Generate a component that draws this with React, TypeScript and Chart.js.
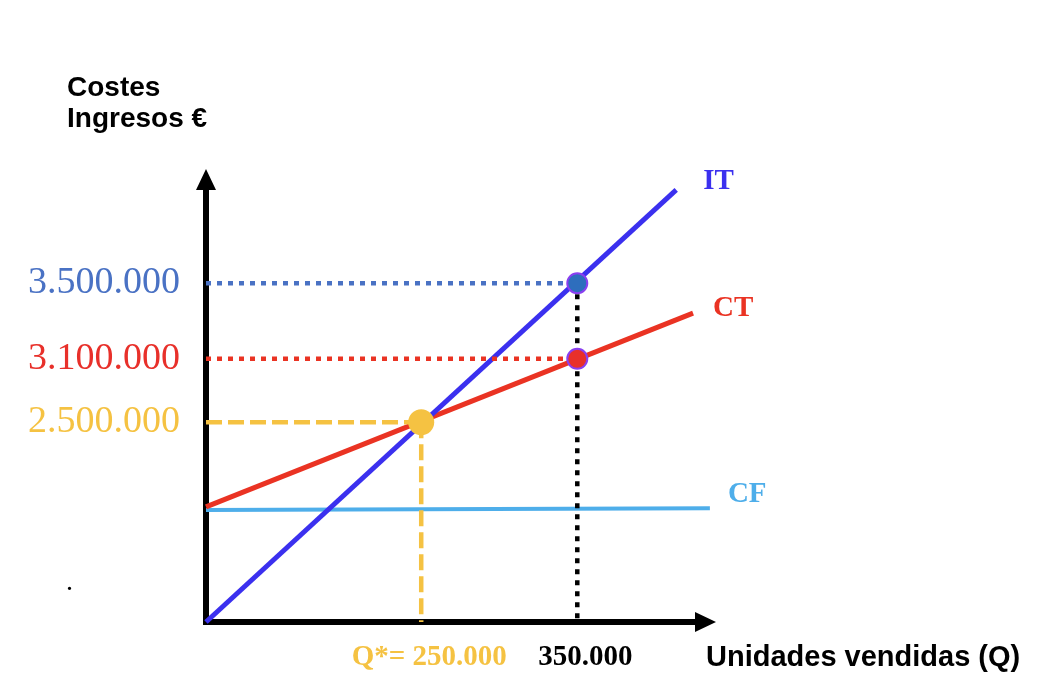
import { useEffect, useRef } from 'react';
import { Chart, registerables, Plugin } from 'chart.js';

Chart.register(...registerables);

// The original is a schematic (not to scale), so both axes run 0–100 in
// drawing units and each labelled value sits where the original puts it.
const qTickPos = [42.2, 72.8];
const qTickLabels = ['Q*= 250.000', '350.000'];
const qTickColors = ['#f5c242', '#000000'];

const eurTickPos = [74.8, 58.1, 44.1];
const eurTickLabels = ['3.500.000', '3.100.000', '2.500.000'];
const eurTickColors = ['#4a72c4', '#e8302a', '#f5c242'];

// IT (ingresos totales), CT (costes totales), CF (costes fijos)
const itX = [0, 92.2];
const itY = [0, 95.4];
const ctX = [0, 95.5];
const ctY = [25.4, 68.2];
const cfX = [0, 98.8];
const cfY = [24.7, 25.1];

const serif = '"Liberation Serif", "Times New Roman", serif';
const sans = '"Liberation Sans", Arial, sans-serif';

const pts = (xs: number[], ys: number[]) => xs.map((x, i) => ({ x, y: ys[i] }));

const lineSet = (label: string, xs: number[], ys: number[], color: string, width: number, dash: number[], order: number) => ({
  label,
  data: pts(xs, ys),
  borderColor: color,
  borderWidth: width,
  borderDash: dash,
  borderCapStyle: 'butt' as const,
  pointRadius: 0,
  fill: false,
  tension: 0,
  order,
});

const axesArrows: Plugin = {
  id: 'axesArrows',
  beforeDatasetsDraw(chart) {
    const { ctx, chartArea } = chart;
    const { left, top, right, bottom } = chartArea;
    ctx.save();
    ctx.strokeStyle = '#000';
    ctx.fillStyle = '#000';
    ctx.lineWidth = 6;
    ctx.beginPath();
    ctx.moveTo(left, bottom + 3);
    ctx.lineTo(left, top + 20);
    ctx.moveTo(left - 3, bottom);
    ctx.lineTo(right - 20, bottom);
    ctx.stroke();
    ctx.beginPath();
    ctx.moveTo(left, top);
    ctx.lineTo(left - 10, top + 21);
    ctx.lineTo(left + 10, top + 21);
    ctx.closePath();
    ctx.moveTo(right, bottom);
    ctx.lineTo(right - 21, bottom - 10);
    ctx.lineTo(right - 21, bottom + 10);
    ctx.closePath();
    ctx.fill();
    ctx.restore();
  },
};

const captions: Plugin = {
  id: 'captions',
  afterDraw(chart) {
    const { ctx } = chart;
    const xs = chart.scales.x;
    const ys = chart.scales.y;
    const at = (x: number, y: number) => [xs.getPixelForValue(x), ys.getPixelForValue(y)];
    ctx.save();
    ctx.textAlign = 'left';
    ctx.textBaseline = 'alphabetic';

    ctx.font = `bold 29px ${serif}`;
    let [px, py] = at(itX[1], itY[1]);
    ctx.fillStyle = '#3b30ef';
    ctx.fillText('IT', px + 27, py - 1);
    [px, py] = at(ctX[1], ctY[1]);
    ctx.fillStyle = '#ea3323';
    ctx.fillText('CT', px + 20, py + 3);
    [px, py] = at(cfX[1], cfY[1]);
    ctx.fillStyle = '#4eaeea';
    ctx.fillText('CF', px + 18, py - 6);

    ctx.fillStyle = '#000';
    ctx.font = `bold 28px ${sans}`;
    ctx.fillText('Costes', 67, 96);
    ctx.fillText('Ingresos €', 67, 127);
    ctx.font = `bold 29px ${sans}`;
    ctx.fillText('Unidades vendidas (Q)', 706, 666);
    ctx.font = `28px ${serif}`;
    ctx.fillText('.', 66, 590);
    ctx.restore();
  },
};

export default function App() {
  const canvasRef = useRef<HTMLCanvasElement>(null);
  const chartRef = useRef<Chart | null>(null);

  useEffect(() => {
    if (!canvasRef.current) return;
    if (chartRef.current) chartRef.current.destroy();

    const breakEven = { x: qTickPos[0], y: eurTickPos[2] };
    const revenueAt350 = { x: qTickPos[1], y: eurTickPos[0] };
    const costAt350 = { x: qTickPos[1], y: eurTickPos[1] };

    chartRef.current = new Chart(canvasRef.current, {
      type: 'line',
      data: {
        datasets: [
          {
            label: 'puntos',
            data: [revenueAt350, costAt350, breakEven],
            showLine: false,
            pointRadius: [10, 10, 13],
            pointBackgroundColor: ['#2e6ebd', '#e8302a', '#f5c242'],
            pointBorderColor: ['#8a3ff0', '#8a3ff0', '#f5c242'],
            pointBorderWidth: [2, 2, 0],
            order: 0,
          },
          lineSet('guía 3.500.000', [0, revenueAt350.x], [revenueAt350.y, revenueAt350.y], '#4a72c4', 4.5, [5, 6], 1),
          lineSet('guía 3.100.000', [0, costAt350.x], [costAt350.y, costAt350.y], '#ea3323', 4.5, [5, 6], 1),
          lineSet('guía 2.500.000', [0, breakEven.x], [breakEven.y, breakEven.y], '#f5c242', 4.5, [16, 6], 1),
          lineSet('guía Q*', [breakEven.x, breakEven.x], [breakEven.y, 0], '#f5c242', 4.5, [16, 6], 1),
          lineSet('guía 350.000', [revenueAt350.x, revenueAt350.x], [revenueAt350.y, 0], '#000000', 4.5, [5, 6], 1),
          lineSet('IT', itX, itY, '#3b30ef', 5, [], 2),
          lineSet('CT', ctX, ctY, '#ea3323', 5, [], 2),
          lineSet('CF', cfX, cfY, '#4eaeea', 4, [], 3),
        ],
      },
      options: {
        animation: false,
        responsive: true,
        maintainAspectRatio: false,
        layout: { padding: { top: 169, right: 328, left: 0, bottom: 0 } },
        elements: { line: { borderJoinStyle: 'miter' } },
        datasets: { line: { clip: false } },
        scales: {
          x: {
            type: 'linear',
            min: 0,
            max: 100,
            offset: false,
            grid: { display: false, drawTicks: false },
            border: { display: false },
            afterFit: (scale) => {
              scale.height = 68;
            },
            afterBuildTicks: (scale) => {
              scale.ticks = qTickPos.map((value) => ({ value }));
            },
            ticks: {
              autoSkip: false,
              maxRotation: 0,
              padding: 18,
              labelOffset: 8,
              font: { family: serif, size: 29, weight: 'bold' },
              color: (c) => qTickColors[c.index] ?? '#000',
              callback: (_v, i) => qTickLabels[i],
            },
          },
          y: {
            type: 'linear',
            min: 0,
            max: 100,
            grid: { display: false, drawTicks: false },
            border: { display: false },
            afterFit: (scale) => {
              scale.width = 206;
            },
            afterBuildTicks: (scale) => {
              scale.ticks = eurTickPos.map((value) => ({ value }));
            },
            ticks: {
              autoSkip: false,
              padding: 26,
              font: { family: serif, size: 38 },
              color: (c) => eurTickColors[c.index] ?? '#000',
              callback: (_v, i) => eurTickLabels[i],
            },
          },
        },
        plugins: {
          legend: { display: false },
          tooltip: { enabled: false },
        },
      },
      plugins: [axesArrows, captions],
    });

    return () => {
      if (chartRef.current) {
        chartRef.current.destroy();
        chartRef.current = null;
      }
    };
  }, []);

  return (
    <div style={{ position: 'fixed', left: 0, top: 0, width: 1044, height: 690, background: '#fff' }}>
      <canvas ref={canvasRef} />
    </div>
  );
}
